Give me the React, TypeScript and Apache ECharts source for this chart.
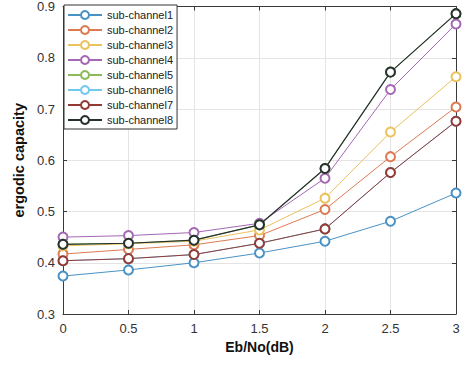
import React, { useEffect, useRef } from "react";
import * as echarts from "echarts";

const xValues = [0, 0.5, 1, 1.5, 2, 2.5, 3];
const seriesNames = [
  "sub-channel1",
  "sub-channel2",
  "sub-channel3",
  "sub-channel4",
  "sub-channel5",
  "sub-channel6",
  "sub-channel7",
  "sub-channel8",
];
const ch1 = [0.374, 0.386, 0.4, 0.419, 0.442, 0.481, 0.536];
const ch2 = [0.417, 0.426, 0.435, 0.453, 0.504, 0.607, 0.704];
const ch3 = [0.433, 0.437, 0.442, 0.464, 0.526, 0.655, 0.763];
const ch4 = [0.45, 0.453, 0.459, 0.477, 0.565, 0.738, 0.866];
const ch5 = [0.436, 0.438, 0.444, 0.474, 0.584, 0.772, 0.886];
const ch6 = [0.404, 0.408, 0.416, 0.438, 0.466, 0.576, 0.676];
const ch7 = [0.404, 0.408, 0.416, 0.438, 0.466, 0.576, 0.676];
const ch8 = [0.436, 0.438, 0.444, 0.474, 0.584, 0.772, 0.886];
const allSeries = [ch1, ch2, ch3, ch4, ch5, ch6, ch7, ch8];
const colors = [
  "#4a92c6",
  "#dc7a52",
  "#ebc25c",
  "#a468b4",
  "#8cba5a",
  "#72c8ee",
  "#933a35",
  "#26302e",
];

export default function App() {
  const ref = useRef<HTMLDivElement>(null);
  useEffect(() => {
    if (!ref.current) return;
    const chart = echarts.init(ref.current, null, { renderer: "svg" });
    const axisColor = "#3a3a3a";
    const font = "Liberation Sans, Arial, sans-serif";
    chart.setOption({
      animation: false,
      backgroundColor: "#ffffff",
      textStyle: { fontFamily: font },
      grid: { left: 63, right: 18, top: 5, bottom: 58, containLabel: false },
      legend: {
        orient: "vertical",
        left: 64,
        top: 5,
        itemWidth: 34,
        itemHeight: 10,
        itemGap: 3,
        padding: [4, 4, 3, 3],
        backgroundColor: "#ffffff",
        borderColor: "#333333",
        borderWidth: 1,
        textStyle: {
          fontSize: 11,
          lineHeight: 12,
          color: "#222222",
          fontFamily: font,
        },
        data: seriesNames,
      },
      xAxis: [
        {
          type: "value",
          min: 0,
          max: 3,
          interval: 0.5,
          name: "Eb/No(dB)",
          nameLocation: "middle",
          nameGap: 25,
          nameTextStyle: { fontSize: 14, fontWeight: "bold", color: "#111111", fontFamily: font },
          axisLine: { show: true, lineStyle: { color: axisColor, width: 1 } },
          axisTick: { show: true, inside: true, length: 4, lineStyle: { color: axisColor } },
          axisLabel: { fontSize: 13, color: "#333333", margin: 8, fontFamily: font },
          splitLine: { show: true, lineStyle: { color: "#e4e4e4", width: 1 } },
        },
        {
          type: "value",
          position: "top",
          min: 0,
          max: 3,
          interval: 0.5,
          axisLine: { show: true, onZero: false, lineStyle: { color: axisColor, width: 1 } },
          axisTick: { show: true, inside: true, length: 4, lineStyle: { color: axisColor } },
          axisLabel: { show: false },
          splitLine: { show: false },
        },
      ],
      yAxis: [
        {
          type: "value",
          min: 0.3,
          max: 0.9,
          interval: 0.1,
          name: "ergodic capacity",
          nameLocation: "middle",
          nameGap: 37,
          nameTextStyle: { fontSize: 14.5, fontWeight: "bold", color: "#111111", fontFamily: font },
          axisLine: { show: true, lineStyle: { color: axisColor, width: 1 } },
          axisTick: { show: true, inside: true, length: 4, lineStyle: { color: axisColor } },
          axisLabel: {
            fontSize: 13,
            color: "#333333",
            margin: 8,
            fontFamily: font,
            formatter: (v: number) => v.toFixed(1),
          },
          splitLine: { show: true, lineStyle: { color: "#e4e4e4", width: 1 } },
        },
        {
          type: "value",
          position: "right",
          min: 0.3,
          max: 0.9,
          interval: 0.1,
          axisLine: { show: true, onZero: false, lineStyle: { color: axisColor, width: 1 } },
          axisTick: { show: true, inside: true, length: 4, lineStyle: { color: axisColor } },
          axisLabel: { show: false },
          splitLine: { show: false },
        },
      ],
      series: allSeries.map((vals, i) => ({
        name: seriesNames[i],
        type: "line",
        data: xValues.map((x, j) => [x, vals[j]]),
        symbol: "emptyCircle",
        symbolSize: 9,
        showAllSymbol: true,
        color: colors[i],
        lineStyle: { width: i === 7 ? 1.2 : 1, color: colors[i] },
        itemStyle: { color: colors[i], borderColor: colors[i], borderWidth: 1 },
        z: 2 + i,
      })),
    });
    return () => chart.dispose();
  }, []);
  return <div ref={ref} style={{ width: 474, height: 372, position: "absolute", left: 0, top: 0 }} />;
}
